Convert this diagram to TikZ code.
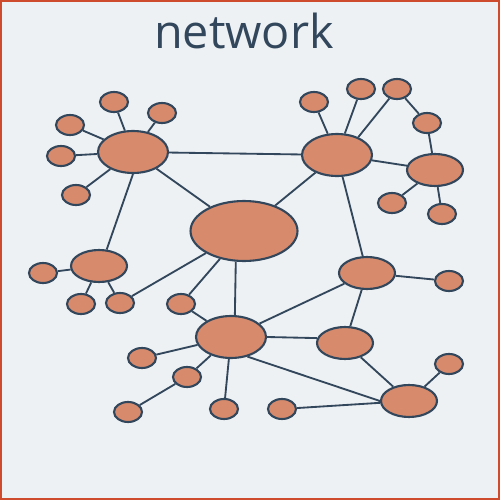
\documentclass[tikz,border=0pt]{standalone}
\usepackage{fontspec}
\setmainfont{Open Sans}
\usetikzlibrary{shapes.geometric}
\definecolor{paper}{RGB}{237,241,243}
\definecolor{frame}{RGB}{206,75,46}
\definecolor{ink}{RGB}{50,70,92}
\definecolor{blob}{RGB}{215,138,108}

\begin{document}
\begin{tikzpicture}[x=0.02cm,y=-0.02cm,
		blob/.style={ellipse,draw=ink,fill=blob,line width=1.2pt,inner sep=0pt},
		leaf/.style={blob,minimum width=0.56cm,minimum height=0.40cm},
		hub/.style={blob,minimum width=1.40cm,minimum height=0.84cm},
		midhub/.style={blob,minimum width=1.12cm,minimum height=0.64cm},
		link/.style={draw=ink,line width=1.05pt}]
		\fill[paper] (0,0) rectangle (500,500);
		\draw[frame,line width=1.15pt] (1,1) rectangle (499,499);
		\useasboundingbox (0,0) rectangle (500,500);
		\node[anchor=base,text=ink,font=\fontsize{26.6}{30}\selectfont] (title) at (244,48) {network};

		\node[blob,minimum width=2.14cm,minimum height=1.20cm] (core) at (244,231) {};
		\node[hub] (nw) at (133,152) {};
		\node[hub] (ne) at (337,155) {};
		\node[hub] (south) at (231,337) {};
		\node[midhub] (east) at (435,170) {};
		\node[midhub] (west) at (99,266) {};
		\node[midhub] (mid) at (367,273) {};
		\node[midhub] (low) at (345,343) {};
		\node[midhub] (se) at (409,401) {};

		\node[leaf] (nw1) at (114,102) {};
		\node[leaf] (nw2) at (162,113) {};
		\node[leaf] (nw3) at (70,125) {};
		\node[leaf] (nw4) at (61,156) {};
		\node[leaf] (nw5) at (76,195) {};
		\node[leaf] (ne1) at (314,102) {};
		\node[leaf] (ne2) at (361,89) {};
		\node[leaf] (ne3) at (397,89) {};
		\node[leaf] (ne4) at (427,123) {};
		\node[leaf] (east1) at (392,203) {};
		\node[leaf] (east2) at (442,214) {};
		\node[leaf] (mid1) at (449,281) {};
		\node[leaf] (west1) at (43,273) {};
		\node[leaf] (west2) at (81,304) {};
		\node[leaf] (west3) at (120,303) {};
		\node[leaf] (south0) at (181,304) {};
		\node[leaf] (south1) at (142,358) {};
		\node[leaf] (south2) at (187,377) {};
		\node[leaf] (south3) at (128,412) {};
		\node[leaf] (south4) at (224,409) {};
		\node[leaf] (se1) at (449,364) {};
		\node[leaf] (se2) at (282,409) {};

		\path[link]
			(nw) -- (nw1) (nw) -- (nw2) (nw) -- (nw3) (nw) -- (nw4) (nw) -- (nw5)
			(nw) -- (ne) (nw) -- (core) (nw.south) -- (west.65)
			(ne) -- (core) (ne) -- (ne1) (ne) -- (ne2) (ne3) -- (ne.40)
			(ne3) -- (ne4) (ne4) -- (east) (ne) -- (east) (ne) -- (mid)
			(east) -- (east1) (east) -- (east2) (mid) -- (mid1)
			(west) -- (west1) (west) -- (west2) (west) -- (west3) (west3) -- (core)
			(core) -- (south0) (south0) -- (south) (core.255) -- (south.80)
			(south) -- (south1) (south) -- (south2) (south2) -- (south3) (south) -- (south4)
			(south) -- (mid) (south.east) -- (low.170) (mid) -- (low) (low) -- (se)
			(south.-50) -- (se.west) (se) -- (se1) (se2) -- (se);
	\end{tikzpicture}
\end{document}
